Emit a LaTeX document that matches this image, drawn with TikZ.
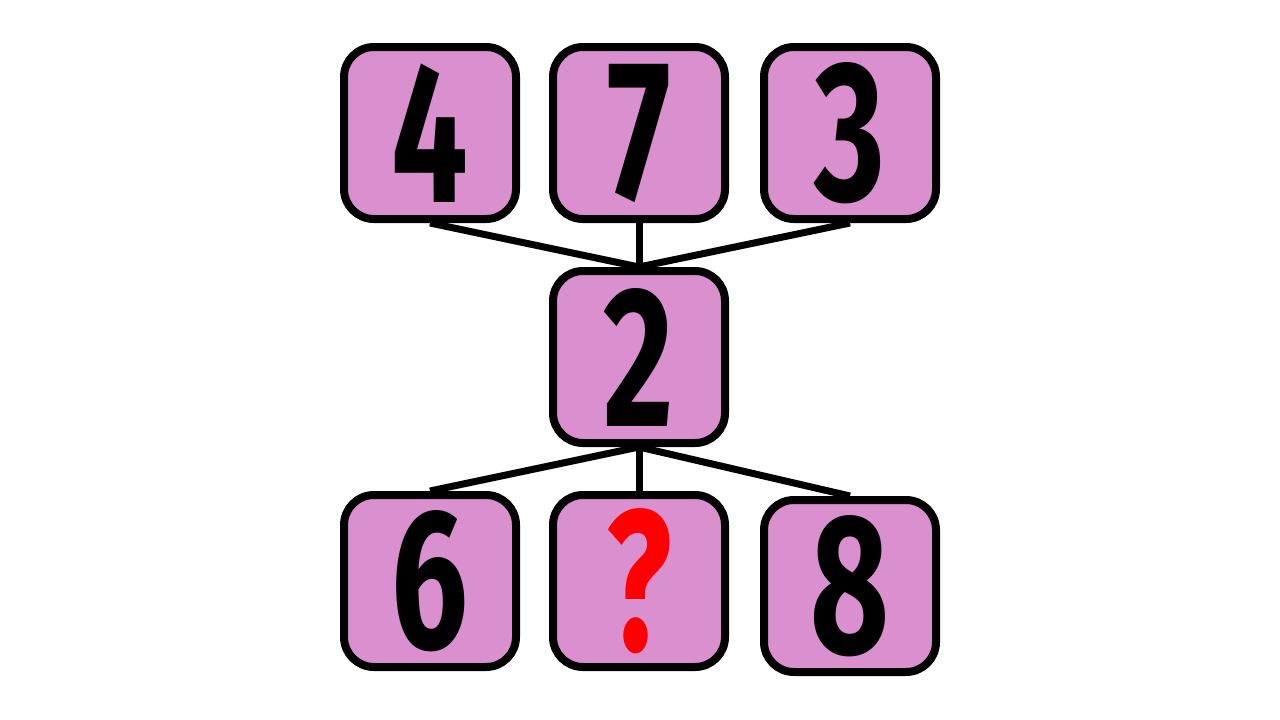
\documentclass[tikz,border=0pt]{standalone}
\usepackage{fontspec}
\setmainfont{Fira Sans}
\definecolor{boxfill}{RGB}{218,143,206}
\definecolor{qred}{RGB}{255,0,0}
\begin{document}
\begin{tikzpicture}[x=1pt,y=-1pt,
  numbox/.style={draw=black,line width=8pt,fill=boxfill,rounded corners=30pt,
    minimum width=172pt,minimum height=172pt,inner sep=0pt,
    font=\fontsize{200}{200}\selectfont\bfseries},
  link/.style={line width=7pt,draw=black}]
\useasboundingbox (0,0) rectangle (1280,720);
\fill[white] (0,0) rectangle (1280,720);
\coordinate (c4) at (430,133);
\coordinate (c7) at (639,133);
\coordinate (c3) at (850,133);
\coordinate (c2) at (639,357);
\coordinate (c6) at (430,581);
\coordinate (cq) at (639,581);
\coordinate (c8) at (850,586);
\node[numbox,draw=none,fill=none] (b4p) at (c4) {};
\node[numbox,draw=none,fill=none] (b7p) at (c7) {};
\node[numbox,draw=none,fill=none] (b3p) at (c3) {};
\node[numbox,draw=none,fill=none] (b2p) at (c2) {};
\node[numbox,draw=none,fill=none] (b6p) at (c6) {};
\node[numbox,draw=none,fill=none] (bqp) at (cq) {};
\node[numbox,draw=none,fill=none] (b8p) at (c8) {};
\draw[link] (b4p.south) -- (b2p.north);
\draw[link] (b7p.south) -- (b2p.north);
\draw[link] (b3p.south) -- (b2p.north);
\draw[link] (b2p.south) -- (b6p.north);
\draw[link] (b2p.south) -- (bqp.north);
\draw[link] (b2p.south) -- (b8p.north);
\node[numbox] (b4) at (c4) {\scalebox{0.68}[1]{4}};
\node[numbox] (b7) at (c7) {\scalebox{0.68}[1]{7}};
\node[numbox] (b3) at (c3) {\scalebox{0.68}[1]{3}};
\node[numbox] (b2) at (c2) {\scalebox{0.68}[1]{2}};
\node[numbox] (b6) at (c6) {\scalebox{0.68}[1]{6}};
\node[numbox,text=qred] (bq) at (cq) {\scalebox{0.68}[1]{?}};
\node[numbox] (b8) at (c8) {\scalebox{0.68}[1]{8}};
\end{tikzpicture}
\end{document}
